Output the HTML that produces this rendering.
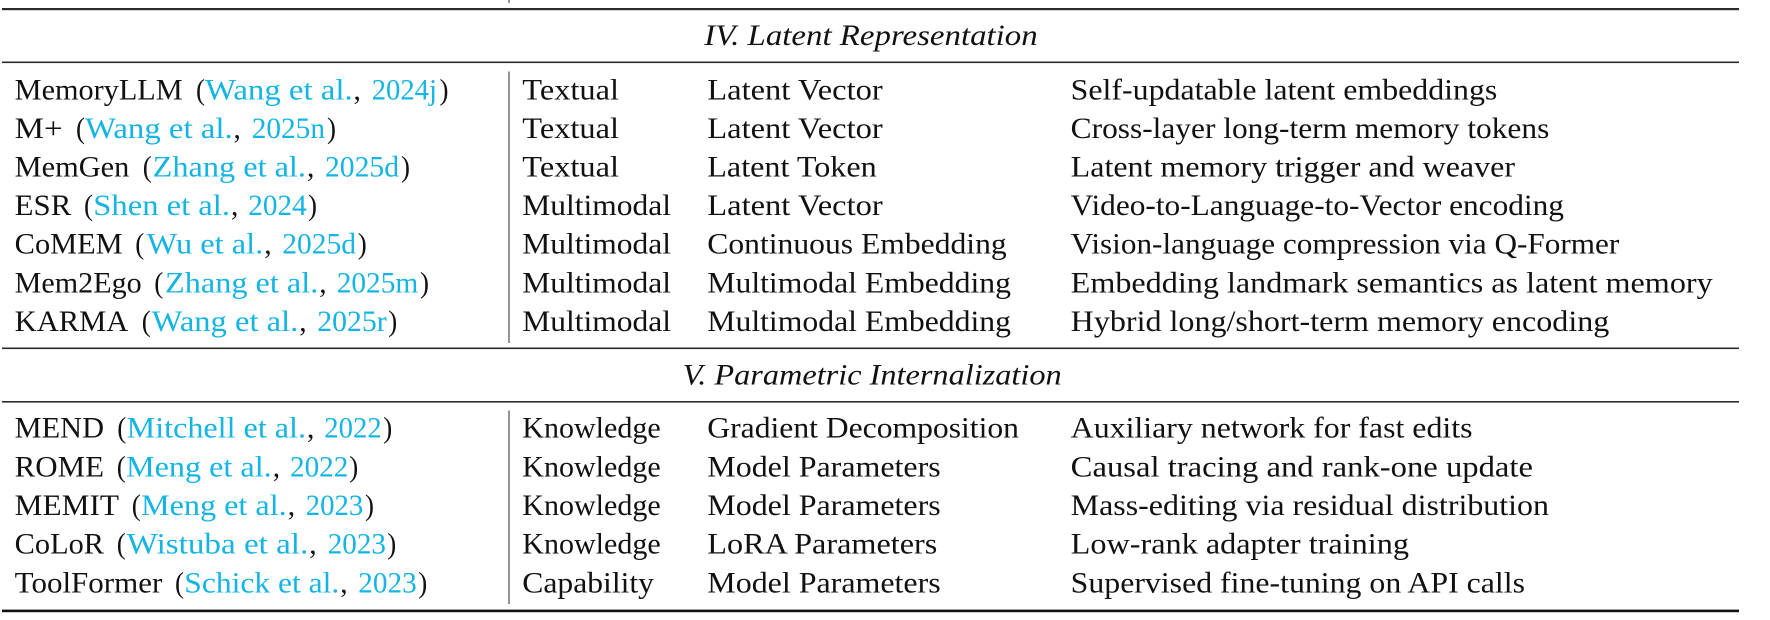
<!DOCTYPE html>
<html lang="en">
<head>
<meta charset="utf-8">
<title>Memory table</title>
<style>
html,body{margin:0;padding:0;background:#fff;width:1770px;height:620px;overflow:hidden}
svg{display:block}
text{font-family:"Liberation Serif",serif;font-size:29.5px;fill:#111}
.b{fill:#14b4e4}
.h{font-style:italic}
</style>
</head>
<body>
<svg xmlns="http://www.w3.org/2000/svg" width="1770" height="620" viewBox="0 0 1770 620">
<rect width="1770" height="620" fill="#fff"/>
<g fill="#2a2a2a">
<rect x="2" y="8" width="1737" height="2.2"/>
<rect x="2" y="61.5" width="1737" height="1.6"/>
<rect x="2" y="347.5" width="1737" height="1.6"/>
<rect x="2" y="401" width="1737" height="1.6"/>
<rect x="2" y="609.6" width="1737" height="2.6" fill="#111"/>
</g>
<g fill="#666">
<rect x="508.3" y="0" width="1.4" height="3"/>
<rect x="508.3" y="71.5" width="1.4" height="271.5"/>
<rect x="508.3" y="410.5" width="1.4" height="193.5"/>
</g>

<text class="h" x="704.3" y="45" textLength="333.4" lengthAdjust="spacingAndGlyphs">IV. Latent Representation</text>
<text class="h" x="682.7" y="384.3" textLength="379" lengthAdjust="spacingAndGlyphs">V. Parametric Internalization</text>

<!-- Row 1 -->
<text x="14.7" y="99.3" textLength="168" lengthAdjust="spacingAndGlyphs">MemoryLLM</text>
<text x="196" y="99.3" textLength="9" lengthAdjust="spacingAndGlyphs">(</text>
<text class="b" x="205" y="99.3" textLength="147.7" lengthAdjust="spacingAndGlyphs">Wang et al.</text>
<text x="353.5" y="99.3">,</text>
<text class="b" x="371.7" y="99.3" textLength="65.3" lengthAdjust="spacingAndGlyphs">2024j</text>
<text x="439.5" y="99.3" textLength="9" lengthAdjust="spacingAndGlyphs">)</text>
<text x="522.3" y="99.3" textLength="96.7" lengthAdjust="spacingAndGlyphs">Textual</text>
<text x="707.3" y="99.3" textLength="175.4" lengthAdjust="spacingAndGlyphs">Latent Vector</text>
<text x="1070.7" y="99.3" textLength="426.6" lengthAdjust="spacingAndGlyphs">Self-updatable latent embeddings</text>

<!-- Row 2 -->
<text x="14.7" y="138" textLength="48" lengthAdjust="spacingAndGlyphs">M+</text>
<text x="76" y="138" textLength="9" lengthAdjust="spacingAndGlyphs">(</text>
<text class="b" x="85" y="138" textLength="147.7" lengthAdjust="spacingAndGlyphs">Wang et al.</text>
<text x="233.5" y="138">,</text>
<text class="b" x="251.7" y="138" textLength="73.3" lengthAdjust="spacingAndGlyphs">2025n</text>
<text x="327" y="138" textLength="9" lengthAdjust="spacingAndGlyphs">)</text>
<text x="522.3" y="138" textLength="96.7" lengthAdjust="spacingAndGlyphs">Textual</text>
<text x="707.3" y="138" textLength="175.4" lengthAdjust="spacingAndGlyphs">Latent Vector</text>
<text x="1070.7" y="138" textLength="478.6" lengthAdjust="spacingAndGlyphs">Cross-layer long-term memory tokens</text>

<!-- Row 3 -->
<text x="14.7" y="176.5" textLength="114.6" lengthAdjust="spacingAndGlyphs">MemGen</text>
<text x="142.7" y="176.5" textLength="9" lengthAdjust="spacingAndGlyphs">(</text>
<text class="b" x="152.7" y="176.5" textLength="153.3" lengthAdjust="spacingAndGlyphs">Zhang et al.</text>
<text x="307" y="176.5">,</text>
<text class="b" x="325" y="176.5" textLength="74" lengthAdjust="spacingAndGlyphs">2025d</text>
<text x="401" y="176.5" textLength="9" lengthAdjust="spacingAndGlyphs">)</text>
<text x="522.3" y="176.5" textLength="96.7" lengthAdjust="spacingAndGlyphs">Textual</text>
<text x="707.3" y="176.5" textLength="169.4" lengthAdjust="spacingAndGlyphs">Latent Token</text>
<text x="1070.7" y="176.5" textLength="444.3" lengthAdjust="spacingAndGlyphs">Latent memory trigger and weaver</text>

<!-- Row 4 -->
<text x="14.7" y="215" textLength="56.6" lengthAdjust="spacingAndGlyphs">ESR</text>
<text x="84" y="215" textLength="9" lengthAdjust="spacingAndGlyphs">(</text>
<text class="b" x="93.3" y="215" textLength="136.7" lengthAdjust="spacingAndGlyphs">Shen et al.</text>
<text x="231" y="215">,</text>
<text class="b" x="248.3" y="215" textLength="58.4" lengthAdjust="spacingAndGlyphs">2024</text>
<text x="308" y="215" textLength="9" lengthAdjust="spacingAndGlyphs">)</text>
<text x="522.3" y="215" textLength="148.7" lengthAdjust="spacingAndGlyphs">Multimodal</text>
<text x="707.3" y="215" textLength="175.4" lengthAdjust="spacingAndGlyphs">Latent Vector</text>
<text x="1070.7" y="215" textLength="493.3" lengthAdjust="spacingAndGlyphs">Video-to-Language-to-Vector encoding</text>

<!-- Row 5 -->
<text x="14.7" y="253.5" textLength="108" lengthAdjust="spacingAndGlyphs">CoMEM</text>
<text x="135.3" y="253.5" textLength="9" lengthAdjust="spacingAndGlyphs">(</text>
<text class="b" x="146.7" y="253.5" textLength="116.6" lengthAdjust="spacingAndGlyphs">Wu et al.</text>
<text x="264.3" y="253.5">,</text>
<text class="b" x="282.3" y="253.5" textLength="73.7" lengthAdjust="spacingAndGlyphs">2025d</text>
<text x="357.7" y="253.5" textLength="9" lengthAdjust="spacingAndGlyphs">)</text>
<text x="522.3" y="253.5" textLength="148.7" lengthAdjust="spacingAndGlyphs">Multimodal</text>
<text x="707.3" y="253.5" textLength="299.4" lengthAdjust="spacingAndGlyphs">Continuous Embedding</text>
<text x="1070.7" y="253.5" textLength="548.6" lengthAdjust="spacingAndGlyphs">Vision-language compression via Q-Former</text>

<!-- Row 6 -->
<text x="14.7" y="292.3" textLength="127" lengthAdjust="spacingAndGlyphs">Mem2Ego</text>
<text x="154.3" y="292.3" textLength="9" lengthAdjust="spacingAndGlyphs">(</text>
<text class="b" x="165" y="292.3" textLength="153.3" lengthAdjust="spacingAndGlyphs">Zhang et al.</text>
<text x="319.3" y="292.3">,</text>
<text class="b" x="336.7" y="292.3" textLength="81.6" lengthAdjust="spacingAndGlyphs">2025m</text>
<text x="420" y="292.3" textLength="9" lengthAdjust="spacingAndGlyphs">)</text>
<text x="522.3" y="292.3" textLength="148.7" lengthAdjust="spacingAndGlyphs">Multimodal</text>
<text x="707.3" y="292.3" textLength="303.7" lengthAdjust="spacingAndGlyphs">Multimodal Embedding</text>
<text x="1070.7" y="292.3" textLength="642" lengthAdjust="spacingAndGlyphs">Embedding landmark semantics as latent memory</text>

<!-- Row 7 -->
<text x="14.7" y="331" textLength="113.6" lengthAdjust="spacingAndGlyphs">KARMA</text>
<text x="141.7" y="331" textLength="9" lengthAdjust="spacingAndGlyphs">(</text>
<text class="b" x="151.7" y="331" textLength="146.6" lengthAdjust="spacingAndGlyphs">Wang et al.</text>
<text x="299.3" y="331">,</text>
<text class="b" x="317.3" y="331" textLength="69.4" lengthAdjust="spacingAndGlyphs">2025r</text>
<text x="388.3" y="331" textLength="9" lengthAdjust="spacingAndGlyphs">)</text>
<text x="522.3" y="331" textLength="148.7" lengthAdjust="spacingAndGlyphs">Multimodal</text>
<text x="707.3" y="331" textLength="303.7" lengthAdjust="spacingAndGlyphs">Multimodal Embedding</text>
<text x="1070.7" y="331" textLength="538.6" lengthAdjust="spacingAndGlyphs">Hybrid long/short-term memory encoding</text>

<!-- Row 8 -->
<text x="14.7" y="437.7" textLength="89.3" lengthAdjust="spacingAndGlyphs">MEND</text>
<text x="117.3" y="437.7" textLength="9" lengthAdjust="spacingAndGlyphs">(</text>
<text class="b" x="126.7" y="437.7" textLength="179.3" lengthAdjust="spacingAndGlyphs">Mitchell et al.</text>
<text x="307" y="437.7">,</text>
<text class="b" x="324.3" y="437.7" textLength="57.4" lengthAdjust="spacingAndGlyphs">2022</text>
<text x="383.3" y="437.7" textLength="9" lengthAdjust="spacingAndGlyphs">)</text>
<text x="522.3" y="437.7" textLength="138.4" lengthAdjust="spacingAndGlyphs">Knowledge</text>
<text x="707.3" y="437.7" textLength="311.7" lengthAdjust="spacingAndGlyphs">Gradient Decomposition</text>
<text x="1070.7" y="437.7" textLength="401.8" lengthAdjust="spacingAndGlyphs">Auxiliary network for fast edits</text>

<!-- Row 9 -->
<text x="14.7" y="476.7" textLength="89.3" lengthAdjust="spacingAndGlyphs">ROME</text>
<text x="116.7" y="476.7" textLength="9" lengthAdjust="spacingAndGlyphs">(</text>
<text class="b" x="126" y="476.7" textLength="145.7" lengthAdjust="spacingAndGlyphs">Meng et al.</text>
<text x="272.7" y="476.7">,</text>
<text class="b" x="290" y="476.7" textLength="58.3" lengthAdjust="spacingAndGlyphs">2022</text>
<text x="349.3" y="476.7" textLength="9" lengthAdjust="spacingAndGlyphs">)</text>
<text x="522.3" y="476.7" textLength="138.4" lengthAdjust="spacingAndGlyphs">Knowledge</text>
<text x="707.3" y="476.7" textLength="233.4" lengthAdjust="spacingAndGlyphs">Model Parameters</text>
<text x="1070.7" y="476.7" textLength="462.3" lengthAdjust="spacingAndGlyphs">Causal tracing and rank-one update</text>

<!-- Row 10 -->
<text x="14.7" y="515" textLength="104.3" lengthAdjust="spacingAndGlyphs">MEMIT</text>
<text x="131.7" y="515" textLength="9" lengthAdjust="spacingAndGlyphs">(</text>
<text class="b" x="141" y="515" textLength="145.7" lengthAdjust="spacingAndGlyphs">Meng et al.</text>
<text x="287.7" y="515">,</text>
<text class="b" x="305.7" y="515" textLength="57.6" lengthAdjust="spacingAndGlyphs">2023</text>
<text x="365" y="515" textLength="9" lengthAdjust="spacingAndGlyphs">)</text>
<text x="522.3" y="515" textLength="138.4" lengthAdjust="spacingAndGlyphs">Knowledge</text>
<text x="707.3" y="515" textLength="233.4" lengthAdjust="spacingAndGlyphs">Model Parameters</text>
<text x="1070.7" y="515" textLength="478.3" lengthAdjust="spacingAndGlyphs">Mass-editing via residual distribution</text>

<!-- Row 11 -->
<text x="14.7" y="553.7" textLength="89.3" lengthAdjust="spacingAndGlyphs">CoLoR</text>
<text x="116.7" y="553.7" textLength="9" lengthAdjust="spacingAndGlyphs">(</text>
<text class="b" x="126.7" y="553.7" textLength="181.6" lengthAdjust="spacingAndGlyphs">Wistuba et al.</text>
<text x="309.3" y="553.7">,</text>
<text class="b" x="327.7" y="553.7" textLength="58.3" lengthAdjust="spacingAndGlyphs">2023</text>
<text x="387.3" y="553.7" textLength="9" lengthAdjust="spacingAndGlyphs">)</text>
<text x="522.3" y="553.7" textLength="138.4" lengthAdjust="spacingAndGlyphs">Knowledge</text>
<text x="707.3" y="553.7" textLength="230" lengthAdjust="spacingAndGlyphs">LoRA Parameters</text>
<text x="1070.7" y="553.7" textLength="338.3" lengthAdjust="spacingAndGlyphs">Low-rank adapter training</text>

<!-- Row 12 -->
<text x="14.7" y="592.7" textLength="147.6" lengthAdjust="spacingAndGlyphs">ToolFormer</text>
<text x="175" y="592.7" textLength="9" lengthAdjust="spacingAndGlyphs">(</text>
<text class="b" x="184.3" y="592.7" textLength="155" lengthAdjust="spacingAndGlyphs">Schick et al.</text>
<text x="340.3" y="592.7">,</text>
<text class="b" x="358.3" y="592.7" textLength="58.4" lengthAdjust="spacingAndGlyphs">2023</text>
<text x="418.3" y="592.7" textLength="9" lengthAdjust="spacingAndGlyphs">)</text>
<text x="522.3" y="592.7" textLength="131.7" lengthAdjust="spacingAndGlyphs">Capability</text>
<text x="707.3" y="592.7" textLength="233.4" lengthAdjust="spacingAndGlyphs">Model Parameters</text>
<text x="1070.7" y="592.7" textLength="454.3" lengthAdjust="spacingAndGlyphs">Supervised fine-tuning on API calls</text>
</svg>
</body>
</html>
